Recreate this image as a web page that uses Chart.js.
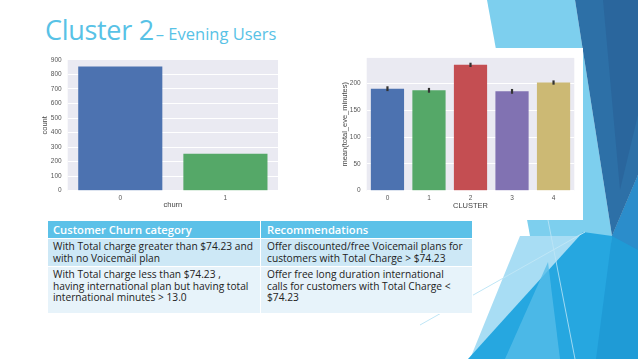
<!DOCTYPE html>
<html>
<head>
<meta charset="utf-8">
<script src="https://cdn.jsdelivr.net/npm/chart.js@4.4.1/dist/chart.umd.min.js"></script>
<style>
  html, body { margin: 0; padding: 0; }
  body { width: 638px; height: 359px; position: relative; overflow: hidden; background: #fff; font-family: "Open Sans", sans-serif; }
  #deco { position: absolute; left: 0; top: 0; }
  .title { position: absolute; left: 45px; top: 11px; color: #58C2E6; white-space: nowrap; }
  .title .big { font-size: 27px; letter-spacing: -0.3px; }
  .title .small { font-size: 16.5px; margin-left: 2px; }
  .box { position: absolute; }
  #leftBox { left: 40px; top: 50px; width: 242px; height: 159px; }
  #rightBox { left: 318px; top: 48px; width: 265px; height: 172px; background: #fff; }
  table { position: absolute; left: 47px; top: 220px; width: 426px; border-collapse: collapse; font-size: 10.2px; line-height: 11.5px; color: #222; table-layout: fixed; }
  td, th { border: 1px solid #fff; text-align: left; vertical-align: top; overflow: hidden; }
  .c1 { padding: 0 7px 0 5px; }
  .c2 { padding: 0 8px 0 6px; }
  th { background: #5CC1E8; color: #fff; font-weight: 600; font-size: 11.2px; height: 17px; vertical-align: middle !important; }
  tr.r1 td { background: #CDE8F6; height: 25px; padding-top: 2px; }
  tr.r2 td { background: #E7F3FA; height: 44px; padding-top: 2px; }
</style>
</head>
<body>
<svg id="deco" width="638" height="359">
  <polygon points="487,0 575,0 612,236 530,236" fill="#7DCFEE"/>
  <polygon points="520,236 612,236 580,359 470,359" fill="#A8DDF4"/>
  <polygon points="468,359 583,232 612,236 610,359" fill="#26A7E0"/>
  <polygon points="505,359 548,262 560,359" fill="#55BDE8" opacity="0.8"/>
  <polygon points="612,236 638,175 638,359 596,359" fill="#1F9BD6"/>
  <polygon points="612,236 638,175 638,250" fill="#2B8DCB"/>
  <polygon points="575,0 638,0 638,175 612,236" fill="#2D70A7"/>
  <polygon points="603,0 638,0 638,115 620,190" fill="#2A669D"/>
  <line x1="420" y1="325" x2="585" y2="232" stroke="#BFE6F6" stroke-width="1"/>
  <line x1="548" y1="220" x2="575" y2="359" stroke="#BFE6F6" stroke-width="0.8"/>
</svg>

<div class="title"><span class="big">Cluster 2</span><span class="small">– Evening Users</span></div>

<div class="box" id="leftBox"><canvas id="churnChart"></canvas></div>
<div class="box" id="rightBox"><canvas id="clusterChart"></canvas></div>

<table>
  <tr><th class="c1" style="width:200px">Customer Churn category</th><th class="c2">Recommendations</th></tr>
  <tr class="r1"><td class="c1">With Total charge greater than $74.23 and with no Voicemail plan</td><td class="c2">Offer discounted/free Voicemail plans for customers with Total Charge &gt; $74.23</td></tr>
  <tr class="r2"><td class="c1">With Total charge less than $74.23 , having international plan but having total international minutes &gt; 13.0</td><td class="c2">Offer free long duration international calls for customers with Total Charge &lt; $74.23</td></tr>
</table>

<script>
const churnLabels = ['0', '1'];
const churnCounts = [855, 255];
const countTicks = [0, 100, 200, 300, 400, 500, 600, 700, 800, 900];

const clusterLabels = ['0', '1', '2', '3', '4'];
const eveMinutes = [190.5, 187.5, 235, 185.5, 202];
const eveLow = [186, 183, 231, 181, 198];
const eveHigh = [195, 192, 239, 190, 206];
const eveTicks = [0, 50, 100, 150, 200];

const deep = ['#4C72B0', '#55A868', '#C44E52', '#8172B2', '#CCB974'];

// fondo gris tipo seaborn
const plotBg = {
  id: 'plotBg',
  beforeDraw(chart) {
    const { ctx, chartArea: a } = chart;
    ctx.save();
    ctx.fillStyle = '#EAEAF2';
    ctx.fillRect(a.left, a.top, a.width, a.height);
    ctx.restore();
  }
};

// barras de error
const errBars = {
  id: 'errBars',
  afterDatasetsDraw(chart) {
    const ctx = chart.ctx;
    const y = chart.scales.y;
    const meta = chart.getDatasetMeta(0);
    ctx.save();
    ctx.strokeStyle = '#333';
    ctx.lineWidth = 2.2;
    meta.data.forEach((bar, i) => {
      ctx.beginPath();
      ctx.moveTo(bar.x, y.getPixelForValue(eveLow[i]));
      ctx.lineTo(bar.x, y.getPixelForValue(eveHigh[i]));
      ctx.stroke();
    });
    ctx.restore();
  }
};

const tickFont = { family: 'Liberation Sans', size: 6.5 };
const titleFont = { family: 'Liberation Sans', size: 7.5 };

function axes(yMax, tickVals, yTitle, xTitle, yWidth, xHeight) {
  return {
    x: {
      grid: { display: false, drawTicks: false },
      border: { display: false },
      ticks: { color: '#555', font: tickFont, padding: 4 },
      title: { display: true, text: xTitle, color: '#444', font: titleFont, padding: 0 },
      afterFit(s) { s.height = xHeight; }
    },
    y: {
      min: 0, max: yMax,
      grid: { color: '#fff', drawTicks: false, lineWidth: 1 },
      border: { display: false },
      ticks: { color: '#555', font: tickFont, padding: 6 },
      afterBuildTicks(s) { s.ticks = tickVals.map(v => ({ value: v })); },
      title: { display: true, text: yTitle, color: '#444', font: titleFont, padding: 0 },
      afterFit(s) { s.width = yWidth; }
    }
  };
}

new Chart(document.getElementById('churnChart'), {
  type: 'bar',
  data: {
    labels: churnLabels,
    datasets: [{ data: churnCounts, backgroundColor: [deep[0], deep[1]], categoryPercentage: 0.8, barPercentage: 1.0 }]
  },
  options: {
    responsive: true, maintainAspectRatio: false, animation: false,
    layout: { padding: { top: 5, right: 4, left: 0, bottom: 0 } },
    plugins: { legend: { display: false }, tooltip: { enabled: false } },
    scales: axes(900, countTicks, 'count', 'churn', 27.7, 18.3)
  },
  plugins: [plotBg]
});

new Chart(document.getElementById('clusterChart'), {
  type: 'bar',
  data: {
    labels: clusterLabels,
    datasets: [{ data: eveMinutes, backgroundColor: deep, categoryPercentage: 0.8, barPercentage: 1.0 }]
  },
  options: {
    responsive: true, maintainAspectRatio: false, animation: false,
    layout: { padding: { top: 6.3, right: 8.7, left: 22, bottom: 9.3 } },
    plugins: { legend: { display: false }, tooltip: { enabled: false } },
    scales: axes(248, eveTicks, 'mean(total_eve_minutes)', 'CLUSTER', 26.7, 20)
  },
  plugins: [plotBg, errBars]
});
</script>
</body>
</html>
